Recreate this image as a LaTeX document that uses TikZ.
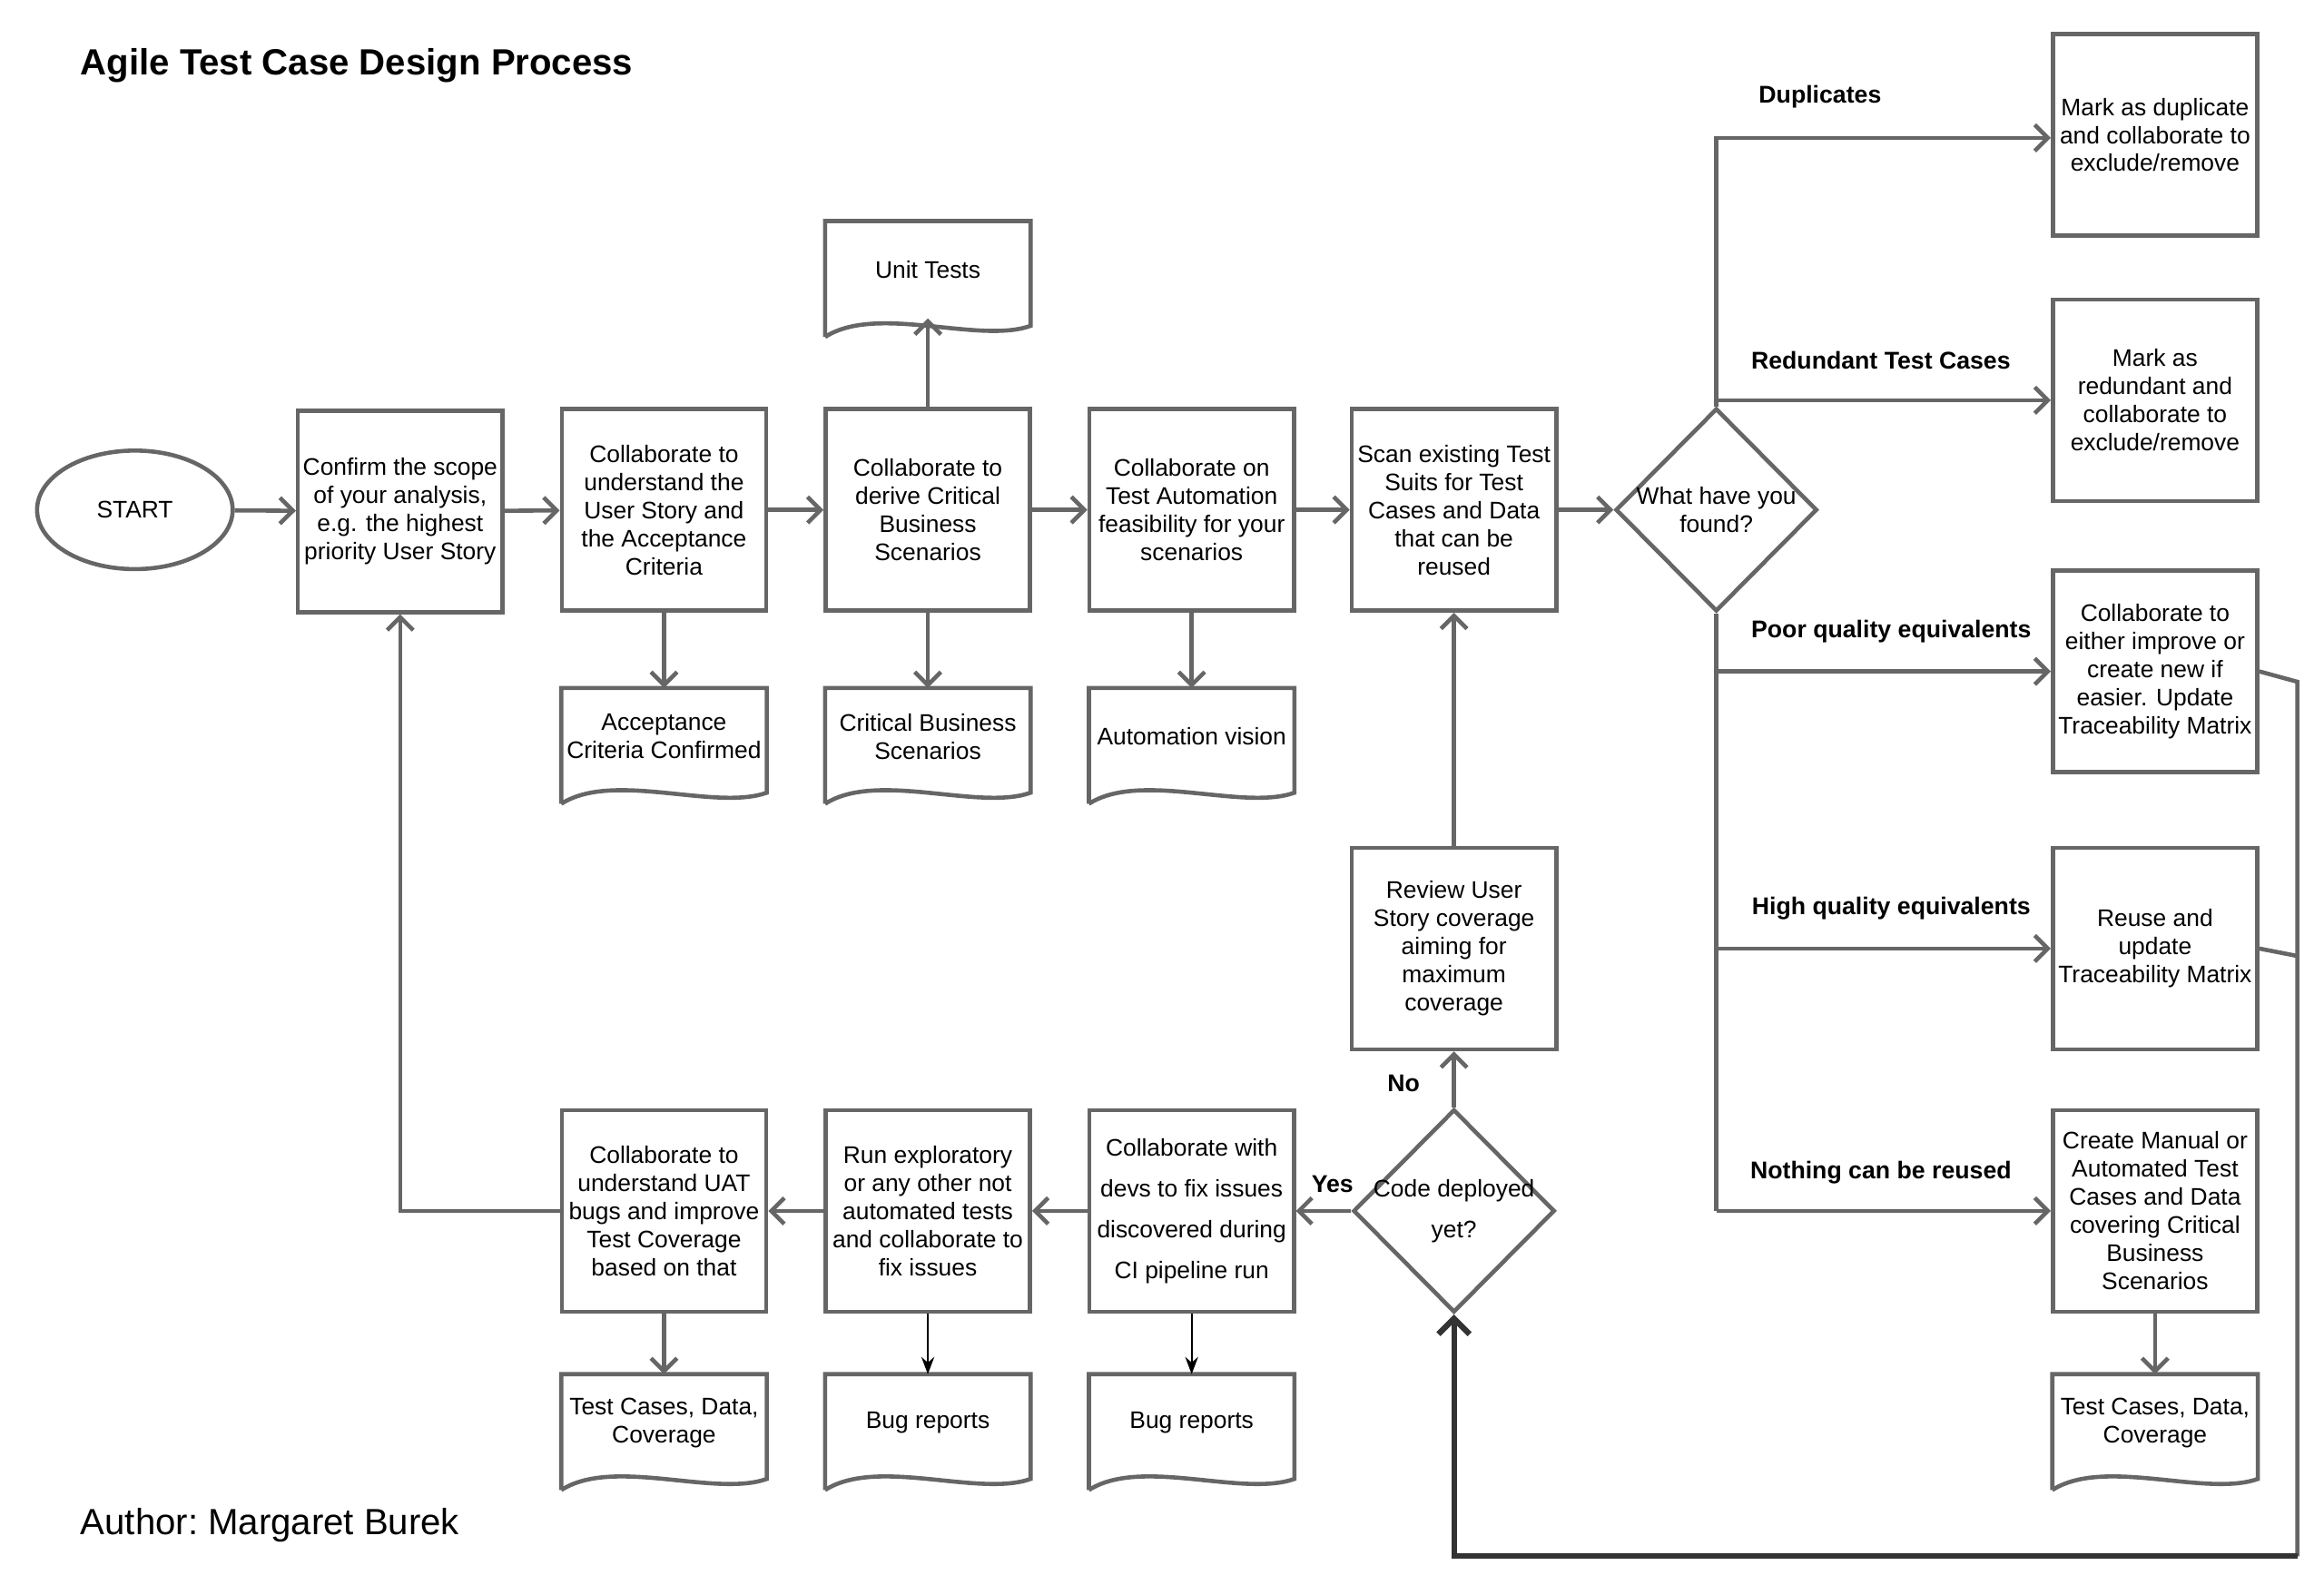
\documentclass[tikz,border=0pt]{standalone}
\usepackage{fontspec}
\setmainfont{Liberation Sans}
\usetikzlibrary{arrows.meta,shapes.geometric}
\definecolor{edge}{HTML}{666666}
\tikzset{
  flow/.style={draw=edge, line width=1.6pt},
  task/.style={flow, rectangle, minimum width=2.76cm, minimum height=2.72cm, align=center, inner sep=1pt},
  paper/.style={rectangle, minimum width=2.76cm, minimum height=1.3cm, align=center, inner sep=1pt},
  choice/.style={flow, diamond, minimum width=2.72cm, minimum height=2.74cm, align=center, inner sep=-6pt},
  tag/.style={font=\fontsize{9.3}{11}\selectfont\bfseries},
  go/.style={flow, -{Straight Barb[length=5pt]}},
}
% document shape: box with a wavy bottom
\newcommand{\docnode}[3]{%
  \node[paper] (#1) at (#2) {#3};
  \draw[flow] ([yshift=-0.25cm]#1.south west) -- (#1.north west) -- (#1.north east) -- ([yshift=-0.1cm]#1.south east)
    .. controls ([xshift=-0.7cm,yshift=-0.35cm]#1.south east) and ([xshift=0.7cm,yshift=0.2cm]#1.south west) .. ([yshift=-0.25cm]#1.south west);
}
\begin{document}
\begin{tikzpicture}[x=0.02cm, y=-0.02cm, font=\fontsize{9.2}{10.8}\selectfont]
\useasboundingbox (0,0) rectangle (1568,1069);

% top row
\node[flow, ellipse, minimum width=2.64cm, minimum height=1.6cm] (start) at (91,344) {START};
\node[task] (scope) at (270,345) {Confirm the scope\\of your analysis,\\e.g. the highest\\priority User Story};
\node[task] (accept) at (448,344) {Collaborate to\\understand the\\User Story and\\the Acceptance\\Criteria};
\node[task] (derive) at (626,344) {Collaborate to\\derive Critical\\Business\\Scenarios};
\node[task] (auto) at (804,344) {Collaborate on\\Test Automation\\feasibility for your\\scenarios};
\node[task] (scan) at (981,344) {Scan existing Test\\Suits for Test\\Cases and Data\\that can be\\reused};
\node[choice] (found) at (1158,344) {What have you\\found?};

% documents
\docnode{unit}{626,182}{Unit Tests}
\docnode{acdoc}{448,497}{Acceptance\\Criteria Confirmed}
\docnode{cbdoc}{626,497}{Critical Business\\Scenarios}
\docnode{avdoc}{804,497}{Automation vision}

% right column
\node[task] (dup) at (1454,91) {Mark as duplicate\\and collaborate to\\exclude/remove};
\node[task] (red) at (1454,270) {Mark as\\redundant and\\collaborate to\\exclude/remove};
\node[task] (poor) at (1454,453) {Collaborate to\\either improve or\\create new if\\easier. Update\\Traceability Matrix};
\node[task] (reuse) at (1454,640) {Reuse and\\update\\Traceability Matrix};
\node[task] (create) at (1454,817) {Create Manual or\\Automated Test\\Cases and Data\\covering Critical\\Business\\Scenarios};
\docnode{tcright}{1454,960}{Test Cases, Data,\\Coverage}

\node[tag] at (1228,65) {Duplicates};
\node[tag] at (1269,243) {Redundant Test Cases};
\node[tag] at (1276,426) {Poor quality equivalents};
\node[tag] at (1276,613) {High quality equivalents};
\node[tag] at (1269,791) {Nothing can be reused};

% bottom row
\node[task] (review) at (981,640) {Review User\\Story coverage\\aiming for\\maximum\\coverage};
\node[choice] (deployed) at (981,817) {Code deployed\\[1ex]yet?};
\node[task] (devs) at (804,817) {Collaborate with\\[1ex]devs to fix issues\\[1ex]discovered during\\[1ex]CI pipeline run};
\node[task] (explore) at (626,817) {Run exploratory\\or any other not\\automated tests\\and collaborate to\\fix issues};
\node[task] (uat) at (448,817) {Collaborate to\\understand UAT\\bugs and improve\\Test Coverage\\based on that};
\docnode{tcleft}{448,960}{Test Cases, Data,\\Coverage}
\docnode{bug1}{626,960}{Bug reports}
\docnode{bug2}{804,960}{Bug reports}

\node[tag] at (899,799) {Yes};
\node[tag] at (947,731) {No};

\node[font=\fontsize{14}{16}\selectfont\bfseries, anchor=west, inner sep=0pt] (title) at (54,44) {Agile Test Case Design Process};
\node[font=\fontsize{14}{16}\selectfont, anchor=west, inner sep=0pt] (author) at (54,1029) {Author:\ Margaret Burek};

% connectors
\draw[go] (start) -- (scope);
\draw[go] (scope) -- (accept);
\draw[go] (accept) -- (derive);
\draw[go] (derive) -- (auto);
\draw[go] (auto) -- (scan);
\draw[go] (scan) -- (found);
\draw[go] (derive) -- (unit);
\draw[go] (accept) -- (acdoc);
\draw[go] (derive) -- (cbdoc);
\draw[go] (auto) -- (avdoc);

\coordinate (trunk) at (1158,93);
\draw[go] (found.north) -- (trunk) -- (dup.west |- trunk);
\draw[flow] (found.south) -- (1158,817);
\draw[go] (1158,270) -- (red.west);
\draw[go] (1158,453) -- (poor.west);
\draw[go] (1158,640) -- (reuse.west);
\draw[go] (1158,817) -- (create.west);
\draw[go] (create) -- (tcright);

\coordinate (loopR) at (1550,1050);
\coordinate (loopL) at (981,1050);
\draw[flow] (poor.east) -- (1550,460) -- (loopR);
\draw[flow] (reuse.east) -- (1550,645);
\draw[flow, line width=2.2pt, draw=black!80, -{Straight Barb[length=6pt]}] (loopR) -- (loopL) -- (deployed.south);

\draw[go] (deployed.north) -- (review);
\draw[go] (review) -- (scan);
\draw[go] (deployed) -- (devs);
\draw[go] (devs) -- (explore);
\draw[go] (explore) -- (uat);
\draw[go] (uat) -- (tcleft);
\draw[-{Stealth}, thick] (explore) -- (bug1);
\draw[-{Stealth}, thick] (devs) -- (bug2);
\draw[go] (uat.west) -- (270,817) -- (scope.south);
\end{tikzpicture}
\end{document}
